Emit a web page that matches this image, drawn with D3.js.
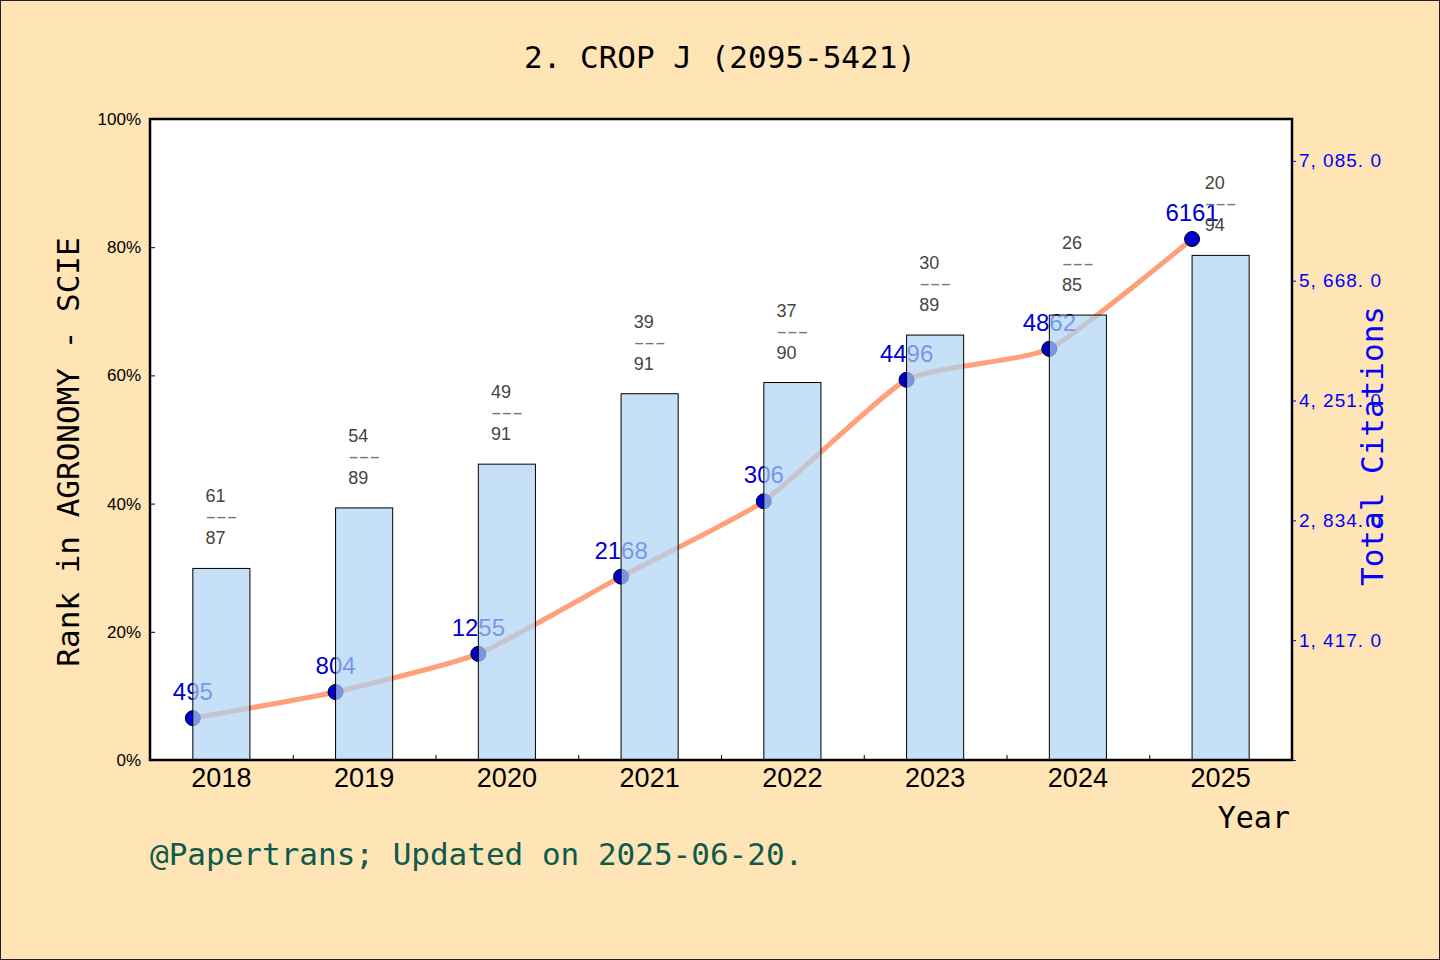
<!DOCTYPE html>
<html><head><meta charset="utf-8">
<script src="https://cdn.jsdelivr.net/npm/d3@7"></script>
<style>html,body{margin:0;padding:0;background:#FFE4B5;} svg{display:block;}</style>
</head><body><svg id="c" width="1440" height="960"></svg>
<script>
// ---- data ----
const years = ["2018","2019","2020","2021","2022","2023","2024","2025"];
const rankPos = [61, 54, 49, 39, 37, 30, 26, 20];
const rankTotal = [87, 89, 91, 91, 90, 89, 85, 94];
const citations = [495, 804, 1255, 2168, 3060, 4496, 4862, 6161];
const citationLabels = ["495", "804", "1255", "2168", "306", "4496", "4862", "6161"];
const leftTicks = [0, 0.2, 0.4, 0.6, 0.8, 1.0];
const rightTicks = [0, 1417, 2834, 4251, 5668, 7085];
const rightMax = 7580;
const titleText = "2. CROP J (2095-5421)";
const yLabelText = "Rank in AGRONOMY - SCIE";
const y2LabelText = "Total Citations";
const xLabelText = "Year";
const footerText = "@Papertrans; Updated on 2025-06-20.";

const MONO = "'DejaVu Sans Mono', 'Liberation Mono', monospace";
const SANS = "'Liberation Sans', Arial, sans-serif";

const svg = d3.select("#c");
const W = 1440, H = 960;
const L = 150, R = 1292, T = 119, B = 760;

svg.append("rect").attr("x",0.5).attr("y",0.5).attr("width",W-1).attr("height",H-1)
  .attr("fill","#FFE4B5").attr("stroke","#222").attr("stroke-width",1);

const xBand = d3.scaleBand().domain(years).range([L, R]).paddingInner(0).paddingOuter(0);
const xLin = d3.scaleLinear().domain([0, years.length]).range([L, R]);
const yL = d3.scaleLinear().domain([0, 1]).range([B, T]);
const yR = d3.scaleLinear().domain([0, rightMax]).range([B, T]);
const barW = xBand.bandwidth() * 0.4;

const rows = years.map((y, i) => ({
  year: y, pos: rankPos[i], total: rankTotal[i],
  share: 1 - rankPos[i] / rankTotal[i],
  cit: citations[i], citLabel: citationLabels[i]
}));

// plot background
svg.append("rect").attr("x", L).attr("y", T).attr("width", R - L).attr("height", B - T).attr("fill", "#fff");

const px = d => xBand(d.year) + xBand.bandwidth() / 2 - barW / 2;

// line
const line = d3.line().x(d => px(d)).y(d => yR(d.cit)).curve(d3.curveCardinal.tension(0.5));
svg.append("path").datum(rows).attr("d", line).attr("fill", "none")
  .attr("stroke", "#FFA07A").attr("stroke-width", 5).attr("stroke-linecap", "round");

// markers
svg.selectAll("circle.pt").data(rows).join("circle").attr("class", "pt")
  .attr("cx", d => px(d)).attr("cy", d => yR(d.cit)).attr("r", 7.5)
  .attr("fill", "#0000CD").attr("stroke", "#000").attr("stroke-width", 1);

// citation labels
svg.selectAll("text.cit").data(rows).join("text").attr("class", "cit")
  .attr("x", d => px(d)).attr("y", d => yR(d.cit) - 18)
  .attr("text-anchor", "middle").attr("font-family", SANS).attr("font-size", 24)
  .attr("fill", "#0000CD").text(d => d.citLabel);

// bars (semi-transparent, on top)
svg.selectAll("rect.bar").data(rows).join("rect").attr("class", "bar")
  .attr("x", d => px(d)).attr("width", barW)
  .attr("y", d => yL(d.share)).attr("height", d => B - yL(d.share))
  .attr("fill", "rgb(172,211,244)").attr("fill-opacity", 0.7)
  .attr("stroke", "#000").attr("stroke-width", 1);

// rank labels
const rk = svg.selectAll("g.rk").data(rows).join("g").attr("class", "rk")
  .attr("transform", d => `translate(${xBand(d.year) + xBand.bandwidth()/2 - 16},${yL(d.share) - 24})`);
rk.append("text").attr("x", 0).attr("y", -42).attr("font-family", SANS).attr("font-size", 18).attr("fill", "#444").text(d => d.pos);
rk.append("text").attr("x", 0).attr("y", -21).attr("font-family", SANS).attr("font-size", 18).attr("fill", "#777")
  .attr("textLength", 32).attr("lengthAdjust", "spacingAndGlyphs").text("---");
rk.append("text").attr("x", 0).attr("y", 0).attr("font-family", SANS).attr("font-size", 18).attr("fill", "#444").text(d => d.total);

// left axis
const gL = svg.append("g").attr("transform", `translate(${L},0)`)
  .call(d3.axisLeft(yL).tickValues(leftTicks).tickFormat(d3.format(".0%")).tickSizeInner(-5).tickSizeOuter(0).tickPadding(9));
gL.select(".domain").remove();
gL.selectAll("text").attr("font-family", SANS).attr("font-size", 17).attr("fill", "#000");
gL.selectAll("line").attr("stroke", "#000");

// bottom axis labels
const gB = svg.append("g").attr("transform", `translate(0,${B})`)
  .call(d3.axisBottom(xBand).tickSize(0).tickPadding(8));
gB.select(".domain").remove();
gB.selectAll("text").attr("font-family", SANS).attr("font-size", 27).attr("fill", "#000");

// bottom minor ticks at band boundaries
const gB2 = svg.append("g").attr("transform", `translate(0,${B})`)
  .call(d3.axisBottom(xLin).tickValues(d3.range(1, years.length)).tickFormat("").tickSizeInner(-5).tickSizeOuter(0));
gB2.select(".domain").remove();
gB2.selectAll("line").attr("stroke", "#000");

// right axis
const fmtR = v => v === 0 ? "" : d3.format(",.1f")(v).replace(",", ", ").replace(".", ". ");
const gR = svg.append("g").attr("transform", `translate(${R},0)`)
  .call(d3.axisRight(yR).tickValues(rightTicks).tickFormat(fmtR).tickSizeInner(4).tickSizeOuter(0).tickPadding(3));
gR.select(".domain").remove();
gR.selectAll("text").attr("font-family", SANS).attr("font-size", 19).attr("letter-spacing", 1).attr("fill", "#0000FF");
gR.selectAll("line").attr("stroke", "#0000FF");

// frame
svg.append("rect").attr("x", L).attr("y", T).attr("width", R - L).attr("height", B - T)
  .attr("fill", "none").attr("stroke", "#000").attr("stroke-width", 2.5);

// title
svg.append("text").attr("x", 720).attr("y", 68).attr("text-anchor", "middle")
  .attr("font-family", MONO).attr("font-size", 31).attr("fill", "#000").text(titleText);

// y label
svg.append("text").attr("transform", "translate(79,452) rotate(-90)").attr("text-anchor", "middle")
  .attr("font-family", MONO).attr("font-size", 31).attr("fill", "#000").text(yLabelText);

// y2 label
svg.append("text").attr("transform", "translate(1383,446) rotate(-90)").attr("text-anchor", "middle")
  .attr("font-family", MONO).attr("font-size", 31).attr("fill", "#0000FF").text(y2LabelText);

// x label
svg.append("text").attr("x", 1290).attr("y", 828).attr("text-anchor", "end")
  .attr("font-family", MONO).attr("font-size", 30).attr("fill", "#000").text(xLabelText);

// footer
svg.append("text").attr("x", 150).attr("y", 865)
  .attr("font-family", MONO).attr("font-size", 31).attr("fill", "#0E5A4C").text(footerText);
</script>
</body></html>
